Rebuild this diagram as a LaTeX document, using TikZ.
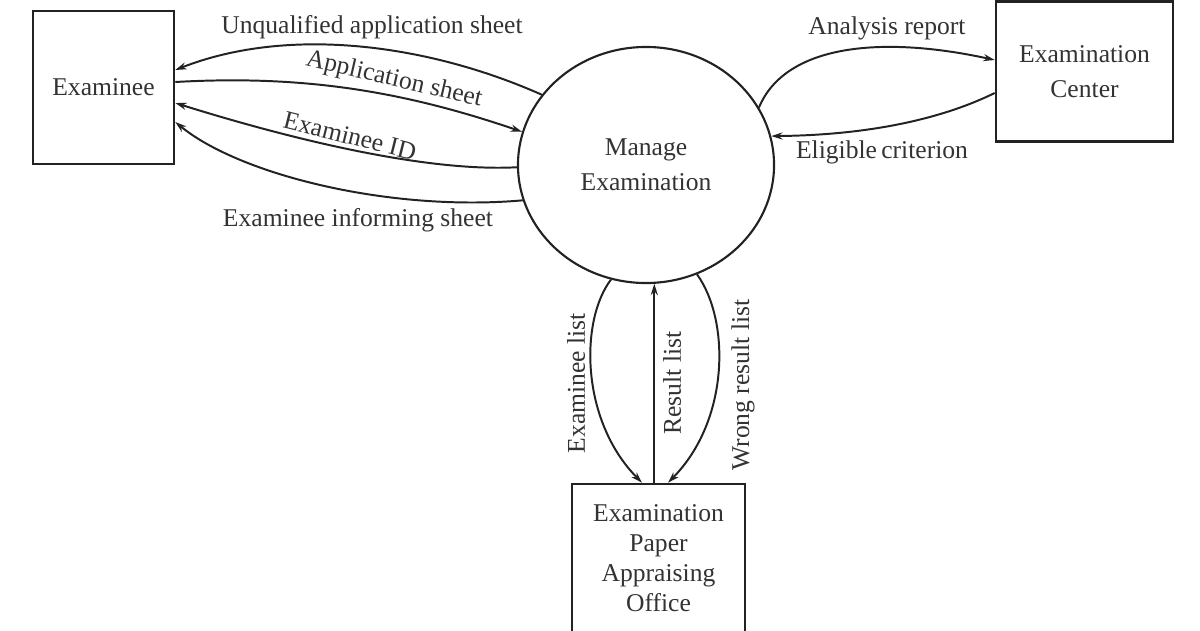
\documentclass[tikz,border=0pt]{standalone}
\usepackage{fontspec}
\setmainfont{Liberation Serif}
\usetikzlibrary{arrows.meta,shapes.geometric}
\definecolor{ln}{HTML}{222222}
\definecolor{txt}{HTML}{333333}
\begin{document}
\begin{tikzpicture}[x=0.025cm,y=-0.025cm,
  every node/.style={font=\fontsize{18.2}{24.8}\selectfont, text=txt},
  ent/.style={draw=ln, line width=1.8pt, inner sep=0pt},
  flow/.style={draw=ln, line width=1.4pt, -{Stealth[length=8pt,width=5pt]}}]
\useasboundingbox (0,0) rectangle (1200,630);
\fill[white] (0,0) rectangle (1200,630);
\clip (0,0) rectangle (1200,630);

\node[ent, minimum width=3.525cm, minimum height=3.825cm] (exee) at (103.5,87.5) {Examinee};
\node[ent, align=center, minimum width=4.425cm, minimum height=3.5cm] (ctr) at (1084.5,71.5) {Examination\\Center};
\node[ent, align=center, minimum width=4.325cm, minimum height=3.7cm, font=\fontsize{18.2}{21.5}\selectfont] (off) at (658.5,558) {Examination\\Paper\\Appraising\\Office};
\node[ellipse, draw=ln, line width=1.5pt, align=center, minimum width=6.4cm, minimum height=5.9cm, inner sep=0pt] (me) at (646,165) {Manage\\Examination};

\draw[flow] (me.146.8) .. controls (430,45) and (290,25) .. (exee.east |- 0,70);
\draw[flow] (exee.east |- 0,82) .. controls (300,75) and (400,90) .. (me.165.4);
\draw[flow] (me.181.3) .. controls (430,172) and (300,142) .. (exee.east |- 0,103);
\draw[flow] (me.196.7) .. controls (390,212) and (240,175) .. (exee.east |- 0,122);
\draw[flow] (me.27) .. controls (785,45) and (880,35) .. (ctr.west |- 0,60);
\draw[flow] (ctr.west |- 0,93) .. controls (950,115) and (880,135) .. (me.13.4);
\draw[flow] (me.253.5) .. controls (580,320) and (580,420) .. (off.north -| 642,0);
\draw[flow] (me.274 |- off.north) -- (me.274);
\draw[flow] (me.295.1) .. controls (730,320) and (730,420) .. (off.north -| 668,0);

\node (l1) at (372,27) {Unqualified application sheet};
\node[rotate=-13] (l2) at (394,80) {Application sheet};
\node[rotate=-14] (l3) at (350,136) {Examinee ID};
\node (l4) at (358,220) {Examinee informing sheet};
\node (l5) at (887,28) {Analysis report};
\node (l6) at (882,152) {Eligible\,criterion};
\node[rotate=90] (l7) at (576,383) {Examinee list};
\node[rotate=90] (l8) at (672,383) {Result list};
\node[rotate=90] (l9) at (743,385) {Wrong result list};
\end{tikzpicture}
\end{document}
